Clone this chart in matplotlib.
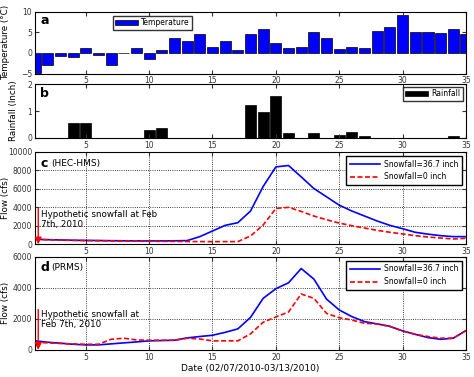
import numpy as np
import matplotlib.pyplot as plt

days = np.arange(1, 36)

temperature = [-4.8, -3.0, -0.8, -1.1, 1.2, -0.6, -2.9, -0.1, 1.2, -1.4,
               0.6, 3.7, 2.8, 4.5, 1.5, 2.9, 0.6, 4.5, 5.7, 2.3,
               1.1, 1.5, 5.1, 3.7, 0.9, 1.5, 1.1, 5.4, 6.2, 9.3,
               5.1, 5.1, 4.9, 5.8, 4.5]

rainfall = [0, 0, 0, 0.57, 0.55, 0, 0, 0, 0, 0.31,
            0.37, 0, 0, 0, 0, 0, 0, 1.23, 0.98, 1.54,
            0.19, 0, 0.2, 0, 0.1, 0.22, 0.06, 0, 0, 0,
            0, 0, 0, 0.09, 0]

hms_snow = [540, 500, 470, 440, 420, 410, 390, 380, 370, 360,
            370, 380, 400, 830, 1440, 2050, 2340, 3600, 6260, 8380,
            8530, 7300, 6040, 5140, 4240, 3600, 3060, 2520, 2050, 1690,
            1300, 1100, 935, 830, 830]
hms_nosnow = [540, 490, 450, 420, 400, 380, 360, 350, 340, 330,
              320, 310, 300, 295, 290, 290, 290, 900, 2090, 3880,
              4000, 3560, 3060, 2660, 2300, 2010, 1760, 1510, 1300, 1120,
              935, 790, 680, 575, 650]

prms_snow = [580, 490, 430, 360, 320, 320, 385, 450, 510, 580,
             600, 620, 770, 860, 940, 1130, 1350, 2090, 3320, 3940,
             4320, 5240, 4560, 3270, 2570, 2140, 1820, 1670, 1520, 1220,
             1000, 790, 680, 750, 1240]
prms_nosnow = [490, 450, 410, 380, 360, 360, 680, 750, 640, 620,
               620, 620, 750, 700, 580, 580, 580, 1030, 1780, 2120,
               2440, 3600, 3320, 2350, 2070, 1920, 1710, 1670, 1500, 1220,
               1000, 860, 750, 750, 1240]

plt.rcParams['font.family'] = 'DejaVu Sans'
plt.rcParams['xtick.direction'] = 'in'
plt.rcParams['ytick.direction'] = 'in'
plt.rcParams['xtick.top'] = True
plt.rcParams['ytick.right'] = True
plt.rcParams['xtick.labelsize'] = 5.5
plt.rcParams['ytick.labelsize'] = 5.5
plt.rcParams['xtick.major.size'] = 3
plt.rcParams['ytick.major.size'] = 3
plt.rcParams['xtick.major.pad'] = 2
plt.rcParams['ytick.major.pad'] = 2
plt.rcParams['xtick.color'] = '#333333'
plt.rcParams['ytick.color'] = '#333333'

fig = plt.figure(figsize=(4.74, 3.77), dpi=100)
left, width = 0.074, 0.909
ax_a = fig.add_axes([left, 0.805, width, 0.164])
ax_b = fig.add_axes([left, 0.634, width, 0.143])
ax_c = fig.add_axes([left, 0.352, width, 0.245])
ax_d = fig.add_axes([left, 0.072, width, 0.247])

xticks = [5, 10, 15, 20, 25, 30, 35]
label_x = 0.012

# a: temperature
ax_a.bar(days, temperature, width=0.88, color='#0000ff', edgecolor='black',
         linewidth=0.5, label='Temperature')
ax_a.set_xlim(1, 35)
ax_a.set_ylim(-5, 10)
ax_a.set_yticks([-5, 0, 5, 10])
ax_a.set_xticks(xticks)
ax_a.set_ylabel('Temperature (\u00b0C)', fontsize=6.3)
ax_a.yaxis.set_label_coords(-0.058, 0.5)
ax_a.text(0.012, 0.85, 'a', transform=ax_a.transAxes, fontsize=9,
          fontweight='bold', va='center')
ax_a.legend(loc='upper left', bbox_to_anchor=(0.18, 0.93), fontsize=5.5,
            frameon=True, fancybox=False, edgecolor='black',
            handlelength=3, borderpad=0.3, handletextpad=0.4,
            borderaxespad=0)

# b: rainfall
ax_b.bar(days, rainfall, width=0.88, color='black', edgecolor='black',
         linewidth=0.5, label='Rainfall')
ax_b.set_xlim(1, 35)
ax_b.set_ylim(0, 2)
ax_b.set_yticks([0, 1, 2])
ax_b.set_xticks(xticks)
ax_b.set_ylabel('Rainfall (Inch)', fontsize=6.3)
ax_b.yaxis.set_label_coords(-0.04, 0.5)
ax_b.text(0.012, 0.83, 'b', transform=ax_b.transAxes, fontsize=9,
          fontweight='bold', va='center')
ax_b.legend(loc='upper right', fontsize=5.5, frameon=True, fancybox=False,
            edgecolor='black', handlelength=3, borderpad=0.3,
            handletextpad=0.4, borderaxespad=0.4)

# c and d: flow
panels = [
    (ax_c, hms_snow, hms_nosnow, 10000, [0, 2000, 4000, 6000, 8000, 10000],
     'c', '(HEC-HMS)', 3900, 'Hypothetic snowfall at Feb\n7th, 2010', 3750),
    (ax_d, prms_snow, prms_nosnow, 6000, [0, 2000, 4000, 6000],
     'd', '(PRMS)', 2600, 'Hypothetic snowfall at\nFeb 7th, 2010', 2550),
]
for ax, snow, nosnow, ymax, yticks, letter, name, arrow_y, note, note_y in panels:
    ax.plot(days, snow, color='#0000ff', lw=1.2, label='Snowfall=36.7 inch')
    ax.plot(days, nosnow, color='#ff0000', lw=1.2, ls='--',
            dashes=(3, 1.5), label='Snowfall=0 inch')
    ax.set_xlim(1, 35)
    ax.set_ylim(0, ymax)
    ax.set_yticks(yticks)
    ax.set_xticks(xticks)
    ax.grid(True, ls=':', color='black', lw=0.6)
    ax.set_ylabel('Flow (cfs)', fontsize=6.3)
    ax.yaxis.set_label_coords(-0.058, 0.5)
    ax.text(label_x, 0.88, letter, transform=ax.transAxes, fontsize=9,
            fontweight='bold', va='center')
    ax.text(0.037, 0.88, name, transform=ax.transAxes, fontsize=6.5,
            va='center')
    ax.annotate('', xy=(1.25, 0), xytext=(1.25, arrow_y),
                annotation_clip=False, zorder=5,
                arrowprops=dict(arrowstyle='-|>', color='#ff0000', lw=1.0,
                                mutation_scale=10, shrinkA=0, shrinkB=0))
    ax.text(1.5, note_y, note, fontsize=6.3, va='top', linespacing=1.15)
    ax.legend(loc='upper right', fontsize=5.5, frameon=True, fancybox=False,
              edgecolor='black', handlelength=4, borderpad=0.5,
              handletextpad=0.5, framealpha=1, borderaxespad=0.5)

ax_d.set_xlabel('Date (02/07/2010-03/13/2010)', fontsize=6.5, labelpad=2)

fig.savefig('out.png', dpi=100)
